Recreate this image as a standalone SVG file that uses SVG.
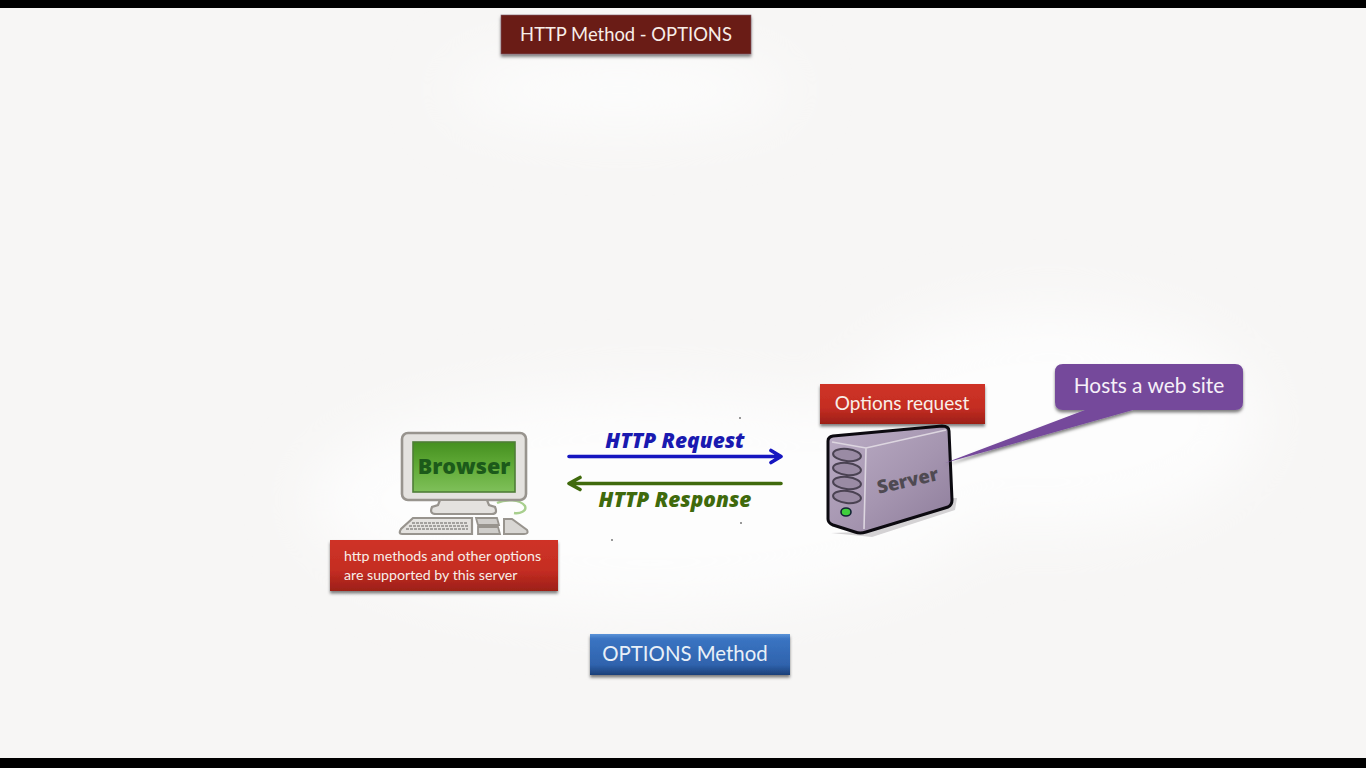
<svg xmlns="http://www.w3.org/2000/svg" width="1366" height="768" viewBox="0 0 1366 768">
<style>
.lbl{font-family:Lato,"Open Sans","Liberation Sans",sans-serif;fill:#f8eee8}
.bold{font-family:"Open Sans","DejaVu Sans",sans-serif;font-weight:800}
.it{font-family:"Open Sans","Liberation Sans",sans-serif;font-weight:800;font-style:italic;font-size:20.800px;text-anchor:middle}
.box{filter:url(#sh)}
</style>
<defs>
<filter id="sh" x="-10%" y="-20%" width="120%" height="150%"><feDropShadow dx="0" dy="2.500" stdDeviation="1.800" flood-color="#000" flood-opacity=".5"/></filter>
<filter id="soft" x="-20%" y="-20%" width="140%" height="140%"><feGaussianBlur stdDeviation="0.500"/></filter>
<filter id="blob" x="-20%" y="-20%" width="140%" height="140%"><feGaussianBlur stdDeviation="30"/></filter>
<linearGradient id="red" x1="0" y1="0" x2="0" y2="1"><stop offset="0" stop-color="#cf3328"/><stop offset=".6" stop-color="#c42d22"/><stop offset="1" stop-color="#9c1f18"/></linearGradient>
<linearGradient id="blue" x1="0" y1="0" x2="0" y2="1"><stop offset="0" stop-color="#5b93d8"/><stop offset=".12" stop-color="#3a74c2"/><stop offset=".75" stop-color="#2f63ad"/><stop offset="1" stop-color="#1c3f78"/></linearGradient>
<linearGradient id="screen" x1="0" y1="0" x2="0" y2="1"><stop offset="0" stop-color="#459020"/><stop offset=".5" stop-color="#62ab38"/><stop offset="1" stop-color="#7fc05a"/></linearGradient>
<linearGradient id="srv" x1="0" y1="0" x2="1" y2="1"><stop offset="0" stop-color="#bcaec6"/><stop offset=".55" stop-color="#a595b0"/><stop offset="1" stop-color="#8d7c9a"/></linearGradient>
</defs>
<rect width="1366" height="768" fill="#f7f6f5"/>
<g filter="url(#blob)" fill="#fdfdfd">
<ellipse cx="620" cy="90" rx="170" ry="35"/>
<ellipse cx="650" cy="500" rx="340" ry="110"/>
<ellipse cx="1050" cy="420" rx="210" ry="110"/>
</g>
<rect width="1366" height="8" fill="#000"/>
<rect y="758" width="1366" height="10" fill="#000"/>

<g id="title"><rect class="box" x="501" y="15" width="250" height="39" fill="#6b1b18" stroke="#7c5a6a" stroke-width=".6"/>
<text class="lbl" x="626" y="41" font-size="18.400" text-anchor="middle">HTTP Method - OPTIONS</text></g>

<g id="browser">
<path d="M497 503 C505 499 520 499 525 506 C527 511 520 514 514 513" fill="none" stroke="#a8cf8e" stroke-width="2.400"/>
<rect x="402" y="433" width="124" height="67" rx="6" fill="#e4e2df" stroke="#98948e" stroke-width="2.600"/>
<rect x="413" y="442" width="102" height="50" fill="url(#screen)" stroke="#4f7d38" stroke-width="1.600"/>
<text class="bold" x="464" y="474" font-size="21.600" text-anchor="middle" fill="#1c5a1a">Browser</text>
<path d="M440 500 L438 505 L432 507 Q429 514 436 514 L492 514 Q498 514 495 507 L489 505 L487 500Z" fill="#e4e2df" stroke="#98948e" stroke-width="2.200"/>
<path d="M413 518 L472 518 L472 534 L402 534 Q398 534 401 529Z" fill="#e4e2df" stroke="#98948e" stroke-width="2.200"/>
<path d="M476 518 L497 518 L499 525 L478 525Z M478 527 L498 527 L500 534 L478 534Z" fill="#cfcdca" stroke="#98948e" stroke-width="1.800"/>
<path d="M504 519 L512 519 L527 530 Q529 534 524 534 L504 534 Z" fill="#d8d6d3" stroke="#98948e" stroke-width="2"/>
<path d="M412 523 L468 523 M409 526 L468 526 M406 529 L468 529" stroke="#a3a19e" stroke-width="2" stroke-dasharray="3 1"/>
</g>

<g id="note"><rect class="box" x="330" y="540" width="228" height="51" fill="url(#red)"/>
<text class="lbl" font-size="14.200"><tspan x="344" y="561">http methods and other options</tspan><tspan x="344" y="580">are supported by this server</tspan></text></g>

<g id="connectors" fill="none" stroke-linecap="round" stroke-linejoin="round" filter="url(#soft)">
<path d="M569 456.500 H780 M771 450.500 L781 456.500 L771 462.500" stroke="#1212c0" stroke-width="3.600"/>
<path d="M781 483.500 H570 M580 477.500 L569 483.500 L580 489.500" stroke="#3f6a0c" stroke-width="3.600"/>
</g>
<text class="it" x="675" y="447.500" fill="#1a1ab0">HTTP Request</text>
<text class="it" x="675" y="506.500" fill="#3f6a0c">HTTP Response</text>
<g fill="#777"><circle cx="740" cy="418" r="1"/><circle cx="741" cy="523" r="1"/><circle cx="612" cy="540" r="1"/></g>

<g id="server">
<path d="M831 533 L872 537 L955 510 L957 498 L952 498 L860 532Z" fill="#d4d2d4" filter="url(#soft)"/>
<path d="M828 441 Q828 437 833 436 L942 426 Q949 426 949 431 L952 500 Q952 505 948 507 L866 532 Q860 534 855 532 L833 525 Q828 523 828 519Z" fill="url(#srv)" stroke="#0c0a10" stroke-width="3"/>
<path d="M832 442 L866 448 L946 430 M866 448 L864 529" fill="none" stroke="#ddd6e0" stroke-width="1.600"/>
<g fill="#9a8ba4" stroke="#4a4252" stroke-width="2">
<ellipse cx="847" cy="455" rx="14" ry="6" transform="rotate(6 847 455)"/>
<ellipse cx="847" cy="469" rx="14" ry="6" transform="rotate(6 847 469)"/>
<ellipse cx="847" cy="483" rx="14" ry="6" transform="rotate(6 847 483)"/>
<ellipse cx="847" cy="497" rx="14" ry="6" transform="rotate(6 847 497)"/>
</g>
<ellipse cx="846" cy="512" rx="5" ry="4" fill="#3fce3c" stroke="#123" stroke-width="1.600"/>
<text class="bold" x="908" y="487" font-size="18.500" text-anchor="middle" fill="#4f4a52" transform="rotate(-13 908 482)">Server</text>
</g>

<g id="options-request"><rect class="box" x="820" y="384" width="165" height="40" fill="url(#red)"/>
<text class="lbl" x="902" y="410" font-size="19" text-anchor="middle">Options request</text></g>

<g id="callout"><path class="box" d="M1063 364 H1235 Q1243 364 1243 372 V402 Q1243 410 1235 410 H1133 L945 463 L1085 410 H1063 Q1055 410 1055 402 V372 Q1055 364 1063 364Z" fill="#74489b"/>
<text class="lbl" x="1149" y="393" font-size="20.900" text-anchor="middle" style="fill:#f6f0f8">Hosts a web site</text></g>

<g id="method"><rect class="box" x="590" y="634" width="200" height="41" fill="url(#blue)"/>
<text class="lbl" x="685" y="661" font-size="20.400" text-anchor="middle" style="fill:#e8f0f8">OPTIONS Method</text></g>
</svg>
